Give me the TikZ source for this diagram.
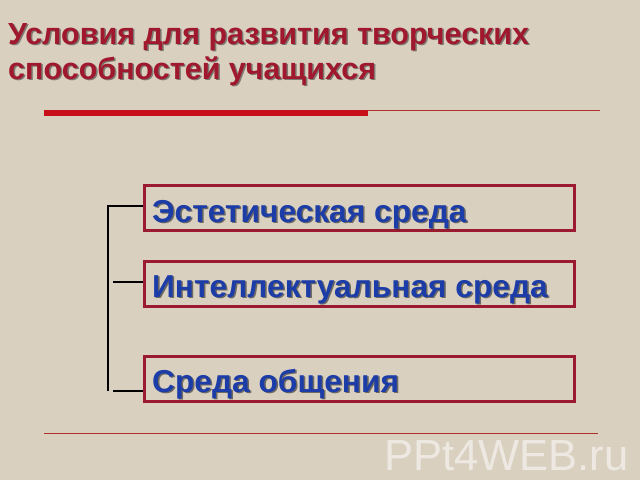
\documentclass[tikz,border=0pt]{standalone}
\usepackage{fontspec}
\setmainfont{Liberation Sans}
\definecolor{bgc}{HTML}{D9D0C0}
\definecolor{titlec}{HTML}{A0182E}
\definecolor{boxc}{HTML}{9C1A30}
\definecolor{textc}{HTML}{1C3CA8}
\definecolor{redline}{HTML}{C8101A}
\definecolor{thinline}{HTML}{B0302A}
\tikzset{
  titletext/.style={anchor=base west, inner sep=0pt, text=titlec, font=\fontsize{30.5}{34}\selectfont\bfseries},
  boxframe/.style={draw=boxc, line width=3pt, minimum width=430pt, minimum height=45pt, anchor=north west, inner sep=0pt},
  boxtext/.style={anchor=base west, inner sep=0pt, text=textc, font=\fontsize{31.7}{36}\selectfont\bfseries},
  bracket/.style={draw=black, line width=1.2pt},
  thin rule/.style={draw=thinline, line width=1pt},
}
\begin{document}
\begin{tikzpicture}[x=1pt,y=-1pt]
\useasboundingbox (0,0) rectangle (640,480);
\fill[bgc] (0,0) rectangle (640,480);
% title
\node[titletext, text=black!80, opacity=0.55] at (9.5,45.5) {Условия для развития творческих};
\node[titletext] (t1) at (8,44) {Условия для развития творческих};
\node[titletext, text=black!80, opacity=0.55] at (9.5,80.5) {способностей учащихся};
\node[titletext] (t2) at (8,79) {способностей учащихся};
% lines under title
\coordinate (l2) at (368,110.5);
\coordinate (l3) at (600,110.5);
\fill[redline] (44,110) rectangle (368,116);
\draw[thin rule] (l2) -- (l3);
% boxes
\node[boxframe] (b1) at (143,184) {};
\node[boxframe] (b2) at (143,260) {};
\node[boxframe] (b3) at (143,355) {};
% texts
\foreach \y/\t in {222/Эстетическая среда, 297/Интеллектуальная среда, 392/Среда общения}{
  \node[boxtext, text=black!85, opacity=0.6] at (153.5,\y+1.5) {\t};
  \node[boxtext] at (152,\y) {\t};
}
% bracket
\coordinate (v1) at (108,206);
\coordinate (v2) at (108,391);
\coordinate (m1) at (113,282);
\coordinate (m2) at (113,391);
\draw[bracket] (b1.west |- v1) -- (v1) -- (v2);
\draw[bracket] (m1) -- (b2.west |- m1);
\draw[bracket] (m2) -- (b3.west |- m2);
% bottom line
\coordinate (bl1) at (44,433);
\coordinate (bl2) at (598,433);
\draw[thin rule] (bl1) -- (bl2);
% watermark
\node[anchor=base west, inner sep=0pt, text=white, opacity=0.55, font=\fontsize{43.5}{44}\selectfont] (wm) at (384,470) {PPt4WEB.ru};
\end{tikzpicture}
\end{document}
